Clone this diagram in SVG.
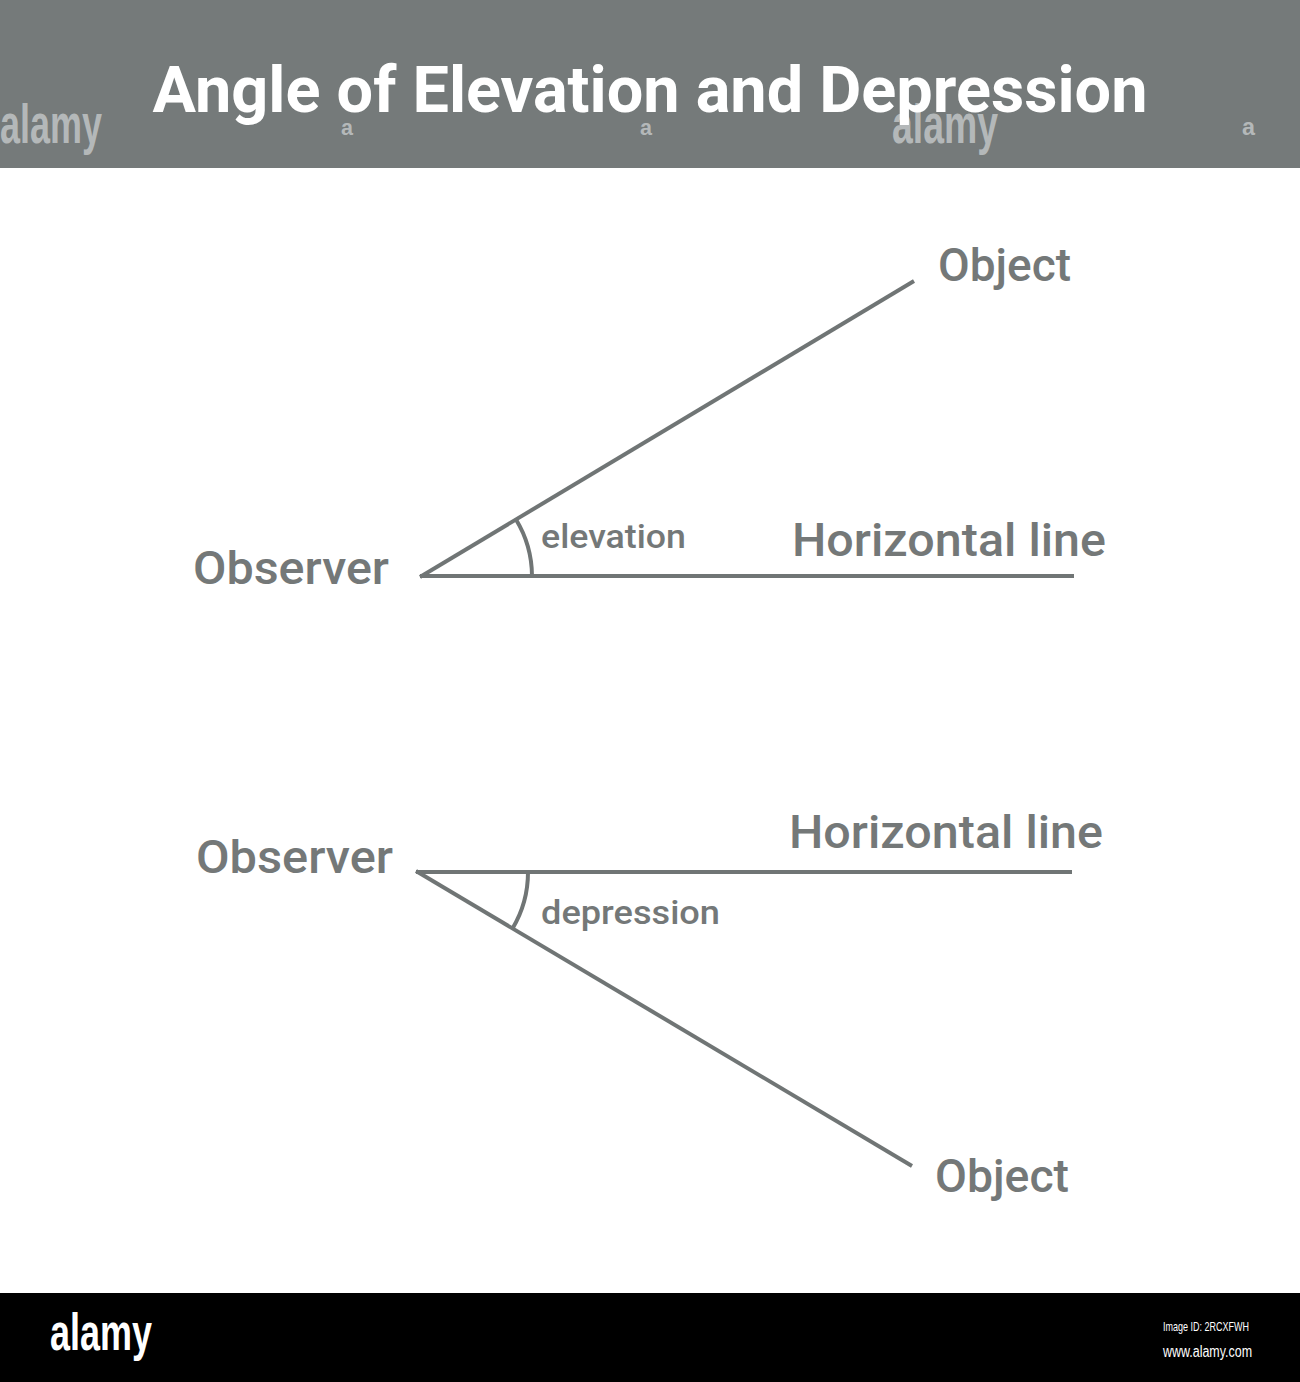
<svg xmlns="http://www.w3.org/2000/svg" width="1300" height="1382" viewBox="0 0 1300 1382">
<style>
.ln{stroke:#707575;stroke-width:4;fill:none;stroke-linecap:butt}
.lbl{font-family:Roboto,"Liberation Sans",sans-serif;fill:#747878;font-weight:500}
.big{font-size:46px}
.small{font-size:33px}
.wm{font-family:"Liberation Sans",sans-serif;font-weight:bold;fill:#b4b8b9}
</style>
<rect x="0" y="0" width="1300" height="1382" fill="#ffffff"/>
<g id="header">
<rect x="0" y="0" width="1300" height="168" fill="#757a7a"/>
<text class="wm" x="0" y="143" font-size="56" textLength="102" lengthAdjust="spacingAndGlyphs">alamy</text>
<text class="wm" x="892" y="143" font-size="56" textLength="106" lengthAdjust="spacingAndGlyphs">alamy</text>
<text class="wm" x="341" y="135" font-size="22" textLength="12" lengthAdjust="spacingAndGlyphs">a</text>
<text class="wm" x="640" y="135" font-size="22" textLength="12" lengthAdjust="spacingAndGlyphs">a</text>
<text class="wm" x="1242" y="135" font-size="24" textLength="13" lengthAdjust="spacingAndGlyphs">a</text>
<text x="650" y="112" text-anchor="middle" font-family="Roboto,'Liberation Sans',sans-serif" font-weight="bold" font-size="64" fill="#ffffff" textLength="995" lengthAdjust="spacingAndGlyphs">Angle of Elevation and Depression</text>
</g>
<g id="connectors">
<line class="ln" x1="420" y1="576" x2="1074" y2="576"/>
<line class="ln" x1="420" y1="577" x2="914" y2="281"/>
<path class="ln" d="M516 519.5 A110 110 0 0 1 532 576"/>
<line class="ln" x1="416" y1="872" x2="1072" y2="872"/>
<line class="ln" x1="416" y1="871" x2="912" y2="1166"/>
<path class="ln" d="M528 872 A110 110 0 0 1 512.5 928.5"/>
</g>
<g id="observer-top"><text class="lbl big" x="193" y="584" textLength="196" lengthAdjust="spacingAndGlyphs">Observer</text></g>
<g id="object-top"><text class="lbl big" x="938" y="281" textLength="133" lengthAdjust="spacingAndGlyphs">Object</text></g>
<g id="horizontal-top"><text class="lbl big" x="792" y="556" textLength="314" lengthAdjust="spacingAndGlyphs">Horizontal line</text></g>
<g id="elevation"><text class="lbl small" x="541" y="548" textLength="145" lengthAdjust="spacingAndGlyphs">elevation</text></g>
<g id="observer-bottom"><text class="lbl big" x="196" y="873" textLength="197" lengthAdjust="spacingAndGlyphs">Observer</text></g>
<g id="horizontal-bottom"><text class="lbl big" x="789" y="848" textLength="314" lengthAdjust="spacingAndGlyphs">Horizontal line</text></g>
<g id="depression"><text class="lbl small" x="541" y="924" textLength="179" lengthAdjust="spacingAndGlyphs">depression</text></g>
<g id="object-bottom"><text class="lbl big" x="935" y="1192" textLength="134" lengthAdjust="spacingAndGlyphs">Object</text></g>
<g id="footer">
<rect x="0" y="1293" width="1300" height="89" fill="#000000"/>
<text x="50" y="1350" font-family="'Liberation Sans',sans-serif" font-weight="bold" font-size="52" fill="#ffffff" textLength="102" lengthAdjust="spacingAndGlyphs">alamy</text>
<text x="1163" y="1331" font-family="'Liberation Sans',sans-serif" font-size="13" fill="#ffffff" textLength="86" lengthAdjust="spacingAndGlyphs">Image ID: 2RCXFWH</text>
<text x="1163" y="1357" font-family="'Liberation Sans',sans-serif" font-size="16" fill="#ffffff" textLength="89" lengthAdjust="spacingAndGlyphs">www.alamy.com</text>
</g>
</svg>
